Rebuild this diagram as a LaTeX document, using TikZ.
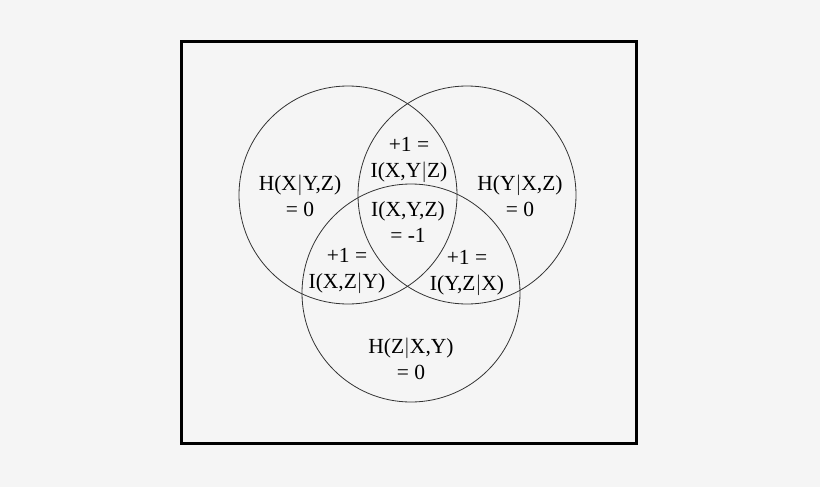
\documentclass[tikz,border=0pt]{standalone}
\usepackage{fontspec}
\setmainfont{Liberation Serif}
\begin{document}
\begin{tikzpicture}[x=1pt,y=-1pt, set/.style={draw=black!80,line width=.8pt},
      lbl/.style={align=center,font=\fontsize{21.5}{26}\selectfont,inner sep=0pt}]
    \useasboundingbox[fill={rgb,255:red,245;green,245;blue,245}] (0,0) rectangle (820,487);
    \draw[line width=3pt] (181.5,42) rectangle (636.5,443.5);

    \foreach \n/\x/\y in {X/348/195,Y/467/195,Z/411/293} {
      \draw[set] (\x,\y) circle (109);
    }

    \node[lbl] (hx) at (300,196) {H(X$|$Y,Z)\\= 0};
    \node[lbl] (hy) at (520,196) {H(Y$|$X,Z)\\= 0};
    \node[lbl] (hz) at (411,359) {H(Z$|$X,Y)\\= 0};
    \node[lbl] (ixy) at (409,160) {+1 =\\I(X,Y$|$Z)};
    \node[lbl] (ixz) at (347,271) {+1 =\\I(X,Z$|$Y)};
    \node[lbl] (iyz) at (467,273) {+1 =\\I(Y,Z$|$X)};
    \node[lbl] (ixyz) at (408,222) {I(X,Y,Z)\\= -1};
\end{tikzpicture}
\end{document}
